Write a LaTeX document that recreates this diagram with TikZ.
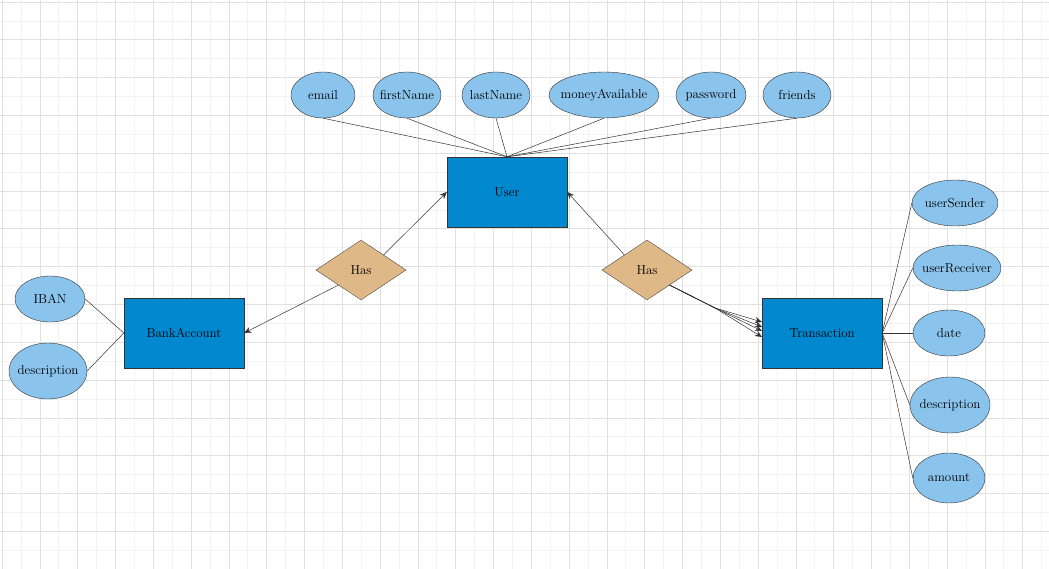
\documentclass[tikz,border=0pt]{standalone}
\usetikzlibrary{shapes.geometric,arrows.meta}
\definecolor{ent}{RGB}{2,136,206}
\definecolor{att}{RGB}{138,195,235}
\definecolor{rel}{RGB}{222,184,135}
\begin{document}
\begin{tikzpicture}[x=1pt,y=-1pt,font=\fontsize{13}{15}\selectfont,
 ent/.style={draw=black!80,fill=ent,minimum width=120pt,minimum height=70pt,inner sep=0pt},
 att/.style={draw=black!80,fill=att,ellipse,inner sep=0pt,minimum height=46pt,label={center:#1}},
 rel/.style={draw=black!70,fill=rel,diamond,minimum width=90pt,minimum height=60pt,inner sep=0pt},
 ln/.style={draw=black!80,line width=0.5pt},
 ar/.style={ln,-{Stealth[length=7pt,width=6pt]}}]
\useasboundingbox (0,0) rectangle (1049,569);
\fill[white] (0,0) rectangle (1049,569);
\foreach \i in {0,...,55} {\draw[black!5,line width=0.6pt] (2+18.9*\i,0) -- (2+18.9*\i,569);}
\foreach \i in {0,...,30} {\draw[black!5,line width=0.6pt] (0,2+18.9*\i) -- (1049,2+18.9*\i);}
\foreach \i in {0,...,27} {\draw[black!12,line width=0.6pt] (2+37.8*\i,0) -- (2+37.8*\i,569);}
\foreach \i in {0,...,15} {\draw[black!12,line width=0.6pt] (0,2+37.8*\i) -- (1049,2+37.8*\i);}

\node[ent] (user) at (507,192) {User};
\node[ent] (bank) at (184,333) {BankAccount};
\node[ent] (tr) at (822,333) {Transaction};
\node[rel] (h1) at (361,270) {Has};
\node[rel] (h2) at (647,270) {Has};

\node[att=email,minimum width=64pt] (a1) at (323,95) {};
\node[att=firstName,minimum width=68pt] (a2) at (407,95) {};
\node[att=lastName,minimum width=68pt] (a3) at (496,95) {};
\node[att=moneyAvailable,minimum width=110pt] (a4) at (604,95) {};
\node[att=password,minimum width=70pt] (a5) at (711,95) {};
\node[att=friends,minimum width=68pt] (a6) at (797,95) {};

\node[att=userSender,minimum width=86pt] (t1) at (955,203) {};
\node[att=userReceiver,minimum width=88pt] (t2) at (957,268) {};
\node[att=date,minimum width=72pt] (t3) at (949,333) {};
\node[att=description,minimum width=80pt,minimum height=56pt] (t4) at (950,405) {};
\node[att=amount,minimum width=72pt,minimum height=50pt] (t5) at (949,478) {};

\node[att=IBAN,minimum width=70pt] (b1) at (50,299) {};
\node[att=description,minimum width=78pt,minimum height=56pt] (b2) at (48,371) {};

\foreach \a in {a1,a2,a3,a4,a5,a6} \draw[ln] (\a.south) -- (user.north);
\foreach \a in {t1,t2,t3,t4,t5} \draw[ln] (\a.west) -- (tr.east);
\foreach \a in {b1,b2} \draw[ln] (\a.east) -- (bank.west);

\draw[ar] (h1.north east) -- (user.west);
\draw[ar] (h1.south west) -- (bank.east);
\draw[ar] (h2.north west) -- (user.east);
\coordinate (f) at (715,308);
\foreach \yy in {322,327,331,337} \draw[ar] (h2.south east) -- (f) -- (762,\yy);
\end{tikzpicture}
\end{document}
